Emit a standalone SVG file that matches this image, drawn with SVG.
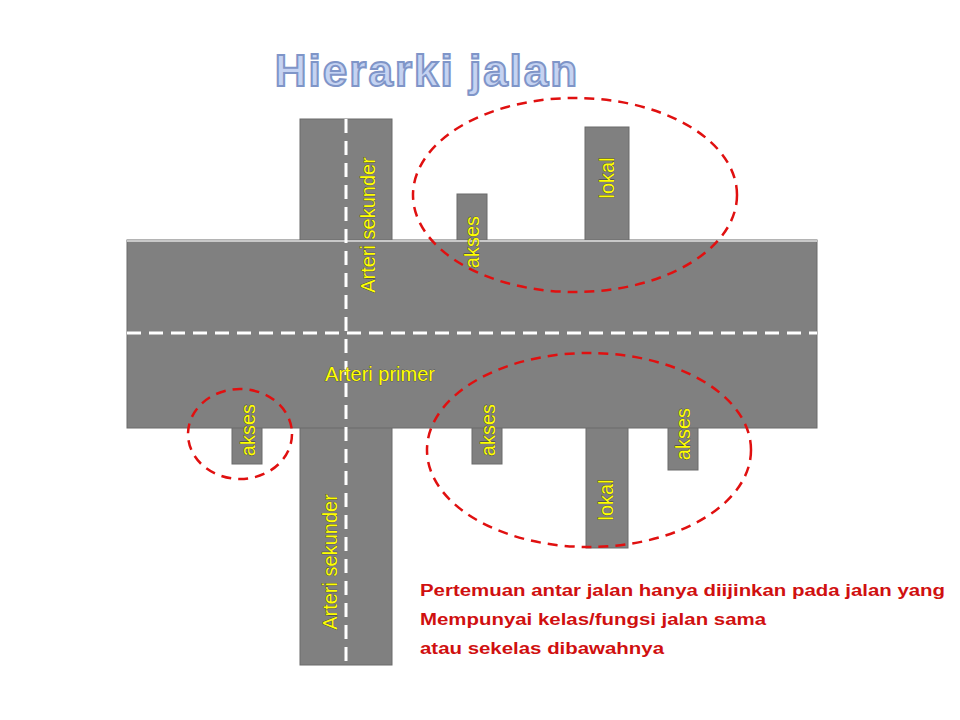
<svg xmlns="http://www.w3.org/2000/svg" width="960" height="720" viewBox="0 0 960 720">
<defs>
<style>
.road{fill:#808080;stroke:#6a6a6a;stroke-width:1}
.hl{fill:none;stroke:#c8c8c8;stroke-width:2}
.dash{stroke:#fff;stroke-width:3;stroke-dasharray:14,8;fill:none}
.ell{fill:none;stroke:#e01010;stroke-width:2.5;stroke-dasharray:10,7}
.lbl{font-family:"Liberation Sans",Arial,sans-serif;font-size:20px;fill:#ffff00;stroke:#333;stroke-width:0.6;paint-order:stroke;text-anchor:middle}
.note{font-family:"Liberation Sans",Arial,sans-serif;font-weight:bold;font-size:16px;fill:#d01010}
</style>
</defs>
<rect width="960" height="720" fill="#fff"/>
<text x="427" y="86" text-anchor="middle" font-family="'Liberation Sans',Arial,sans-serif" font-weight="bold" font-size="44" fill="#c5d3f2" stroke="#7f95c8" stroke-width="2" letter-spacing="2">Hierarki   jalan</text>
<g id="roads">
<rect id="arteri-sekunder-top" class="road" x="300" y="119" width="92" height="125"/>
<rect id="arteri-sekunder-bottom" class="road" x="300" y="424" width="92" height="241"/>
<rect id="akses-top" class="road" x="457" y="194" width="30" height="50"/>
<rect id="lokal-top" class="road" x="585" y="127" width="44" height="117"/>
<rect id="akses-bl" class="road" x="232" y="424" width="30" height="40"/>
<rect id="akses-bm" class="road" x="472" y="424" width="30" height="40"/>
<rect id="lokal-bottom" class="road" x="586" y="424" width="42" height="124"/>
<rect id="akses-br" class="road" x="668" y="424" width="30" height="46"/>
<rect id="arteri-primer" class="road" x="127" y="240" width="690" height="188"/>
<line class="hl" x1="127" y1="241" x2="817" y2="241"/>
</g>
<g id="connectors">
<line class="dash" x1="346" y1="119" x2="346" y2="665"/>
<line class="dash" x1="127" y1="333" x2="817" y2="333"/>
</g>
<g id="labels">
<text class="lbl" transform="translate(375,225) rotate(-90)">Arteri sekunder</text>
<text class="lbl" transform="translate(337,562) rotate(-90)">Arteri sekunder</text>
<text class="lbl" transform="translate(479,242) rotate(-90)">akses</text>
<text class="lbl" transform="translate(614,178) rotate(-90)">lokal</text>
<text class="lbl" transform="translate(255,430) rotate(-90)">akses</text>
<text class="lbl" transform="translate(495,430) rotate(-90)">akses</text>
<text class="lbl" transform="translate(613,500) rotate(-90)">lokal</text>
<text class="lbl" transform="translate(690,434) rotate(-90)">akses</text>
<text class="lbl" x="380" y="381">Arteri primer</text>
</g>
<g id="highlights">
<ellipse class="ell" cx="575" cy="195" rx="162" ry="97"/>
<ellipse class="ell" cx="240" cy="434" rx="52" ry="45"/>
<ellipse class="ell" cx="589" cy="450" rx="162" ry="97"/>
</g>
<g id="note">
<text class="note" x="420" y="596" textLength="525" lengthAdjust="spacingAndGlyphs">Pertemuan antar jalan hanya diijinkan pada jalan yang</text>
<text class="note" x="420" y="625" textLength="346" lengthAdjust="spacingAndGlyphs">Mempunyai kelas/fungsi jalan sama</text>
<text class="note" x="420" y="654" textLength="244" lengthAdjust="spacingAndGlyphs">atau sekelas dibawahnya</text>
</g>
</svg>
